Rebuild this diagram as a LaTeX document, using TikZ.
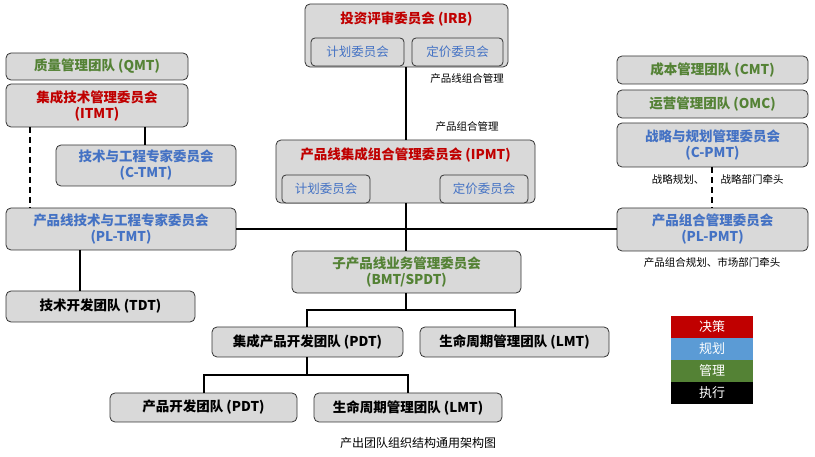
\documentclass[tikz,border=0pt]{standalone}
\usepackage{fontspec}
\setmainfont{Noto Sans CJK SC}
\definecolor{cred}{HTML}{C00000}
\definecolor{cblue}{HTML}{4472C4}
\definecolor{cgreen}{HTML}{548235}
\definecolor{lblue}{HTML}{5B9BD5}
\definecolor{boxfill}{HTML}{D9D9D9}
\begin{document}
\begin{tikzpicture}[x=1pt,y=-1pt,
  bx/.style={draw=black!80,thick,fill=boxfill,rounded corners=5pt},
  sb/.style={draw=black!80,thick,fill=boxfill,rounded corners=4pt},
  ttl/.style={font=\fontsize{13.5}{16}\selectfont\bfseries,align=center},
  sub/.style={font=\fontsize{12.5}{15}\selectfont,text=cblue},
  lab/.style={font=\fontsize{10.5}{12}\selectfont},
  ln/.style={line width=1.4pt}]
\useasboundingbox (0,0) rectangle (815,457);
% boxes
\draw[bx] (305,4) rectangle (508,67);
\node[ttl,text=cred] (irb) at (406.5,19) {投资评审委员会 (IRB)};
\draw[sb] (311,38) rectangle (404,66); \node[sub] (irb1) at (357.5,52) {计划委员会};
\draw[sb] (412,38) rectangle (503,66); \node[sub] (irb2) at (457.5,52) {定价委员会};

\draw[bx] (276,140) rectangle (535,203);
\node[ttl,text=cred] (ipmt) at (405.5,155) {产品线集成组合管理委员会 (IPMT)};
\draw[sb] (282,175) rectangle (370,203); \node[sub] (ip1) at (326,189) {计划委员会};
\draw[sb] (440,175) rectangle (528,203); \node[sub] (ip2) at (484,189) {定价委员会};

\draw[bx] (6,53) rectangle (188,80); \node[ttl,text=cgreen] (qmt) at (97,66.5) {质量管理团队 (QMT)};
\draw[bx] (6,84) rectangle (188,127); \node[ttl,text=cred] (itmt) at (97,105.5) {集成技术管理委员会\\(ITMT)};
\draw[bx] (56,145) rectangle (236,186); \node[ttl,text=cblue] (ctmt) at (146,165.5) {技术与工程专家委员会\\(C-TMT)};
\draw[bx] (6,208) rectangle (236,250); \node[ttl,text=cblue] (pltmt) at (121,229) {产品线技术与工程专家委员会\\(PL-TMT)};
\draw[bx] (6,291) rectangle (195,322); \node[ttl] (tdt) at (100.5,306.5) {技术开发团队 (TDT)};

\draw[bx] (617,56) rectangle (808,84); \node[ttl,text=cgreen] (cmt) at (712.5,70) {成本管理团队 (CMT)};
\draw[bx] (617,90) rectangle (808,118); \node[ttl,text=cgreen] (omc) at (712.5,104) {运营管理团队 (OMC)};
\draw[bx] (617,123) rectangle (808,167); \node[ttl,text=cblue] (cpmt) at (712.5,145) {战略与规划管理委员会\\(C-PMT)};
\draw[bx] (617,208) rectangle (808,251); \node[ttl,text=cblue] (plpmt) at (712.5,229.5) {产品组合管理委员会\\(PL-PMT)};

\draw[bx] (292,251) rectangle (521,293); \node[ttl,text=cgreen] (bmt) at (406.5,272) {子产品线业务管理委员会\\(BMT/SPDT)};
\draw[bx] (212,327) rectangle (403,357); \node[ttl] (pdt1) at (307.5,342) {集成产品开发团队 (PDT)};
\draw[bx] (420,327) rectangle (609,357); \node[ttl] (lmt1) at (514.5,342) {生命周期管理团队 (LMT)};
\draw[bx] (110,393) rectangle (297,422); \node[ttl] (pdt2) at (203.5,407.5) {产品开发团队 (PDT)};
\draw[bx] (314,393) rectangle (502,422); \node[ttl] (lmt2) at (408,407.5) {生命周期管理团队 (LMT)};

% connectors
\coordinate (irbB) at (406,67); \coordinate (ipT) at (406,140);
\draw[ln] (irbB) -- (ipT);
\node[lab] at (467,79) {产品线组合管理};
\node[lab] at (467,127) {产品组合管理};
\coordinate (ipB) at (406,203); \coordinate (hub) at (406,229); \coordinate (bmtT) at (406,251);
\draw[ln] (ipB) -- (bmtT);
\draw[ln] (236,229) -- (617,229);
\draw[ln,dashed,dash pattern=on 6pt off 4pt] (30,127) -- (30,208);
\draw[ln] (145,127) -- (145,145);
\draw[ln] (80,250) -- (80,291);
\draw[ln,dashed,dash pattern=on 6pt off 4pt] (712,167) -- (712,208);
\node[lab,anchor=east] at (708,179) {战略规划、};
\node[lab,anchor=west] at (717,179) {战略部门牵头};
\node[lab] at (712,263) {产品组合规划、市场部门牵头};
\draw[ln] (406,293) -- (406,310);
\draw[ln] (307,327) -- (307,310) -- (515,310) -- (515,327);
\draw[ln] (307,357) -- (307,375);
\draw[ln] (204,393) -- (204,375) -- (408,375) -- (408,393);

% legend
\fill[cred] (671,316) rectangle (753,338);
\fill[lblue] (671,338) rectangle (753,360);
\fill[cgreen] (671,360) rectangle (753,382);
\fill[black] (671,382) rectangle (753,404);
\node[text=white,font=\fontsize{13}{15}\selectfont] (lg1) at (712,327) {决策};
\node[text=white,font=\fontsize{13}{15}\selectfont] (lg2) at (712,349) {规划};
\node[text=white,font=\fontsize{13}{15}\selectfont] (lg3) at (712,371) {管理};
\node[text=white,font=\fontsize{13}{15}\selectfont] (lg4) at (712,393) {执行};

\node[font=\fontsize{12}{14}\selectfont] (cap) at (418,443) {产出团队组织结构通用架构图};
\end{tikzpicture}
\end{document}
